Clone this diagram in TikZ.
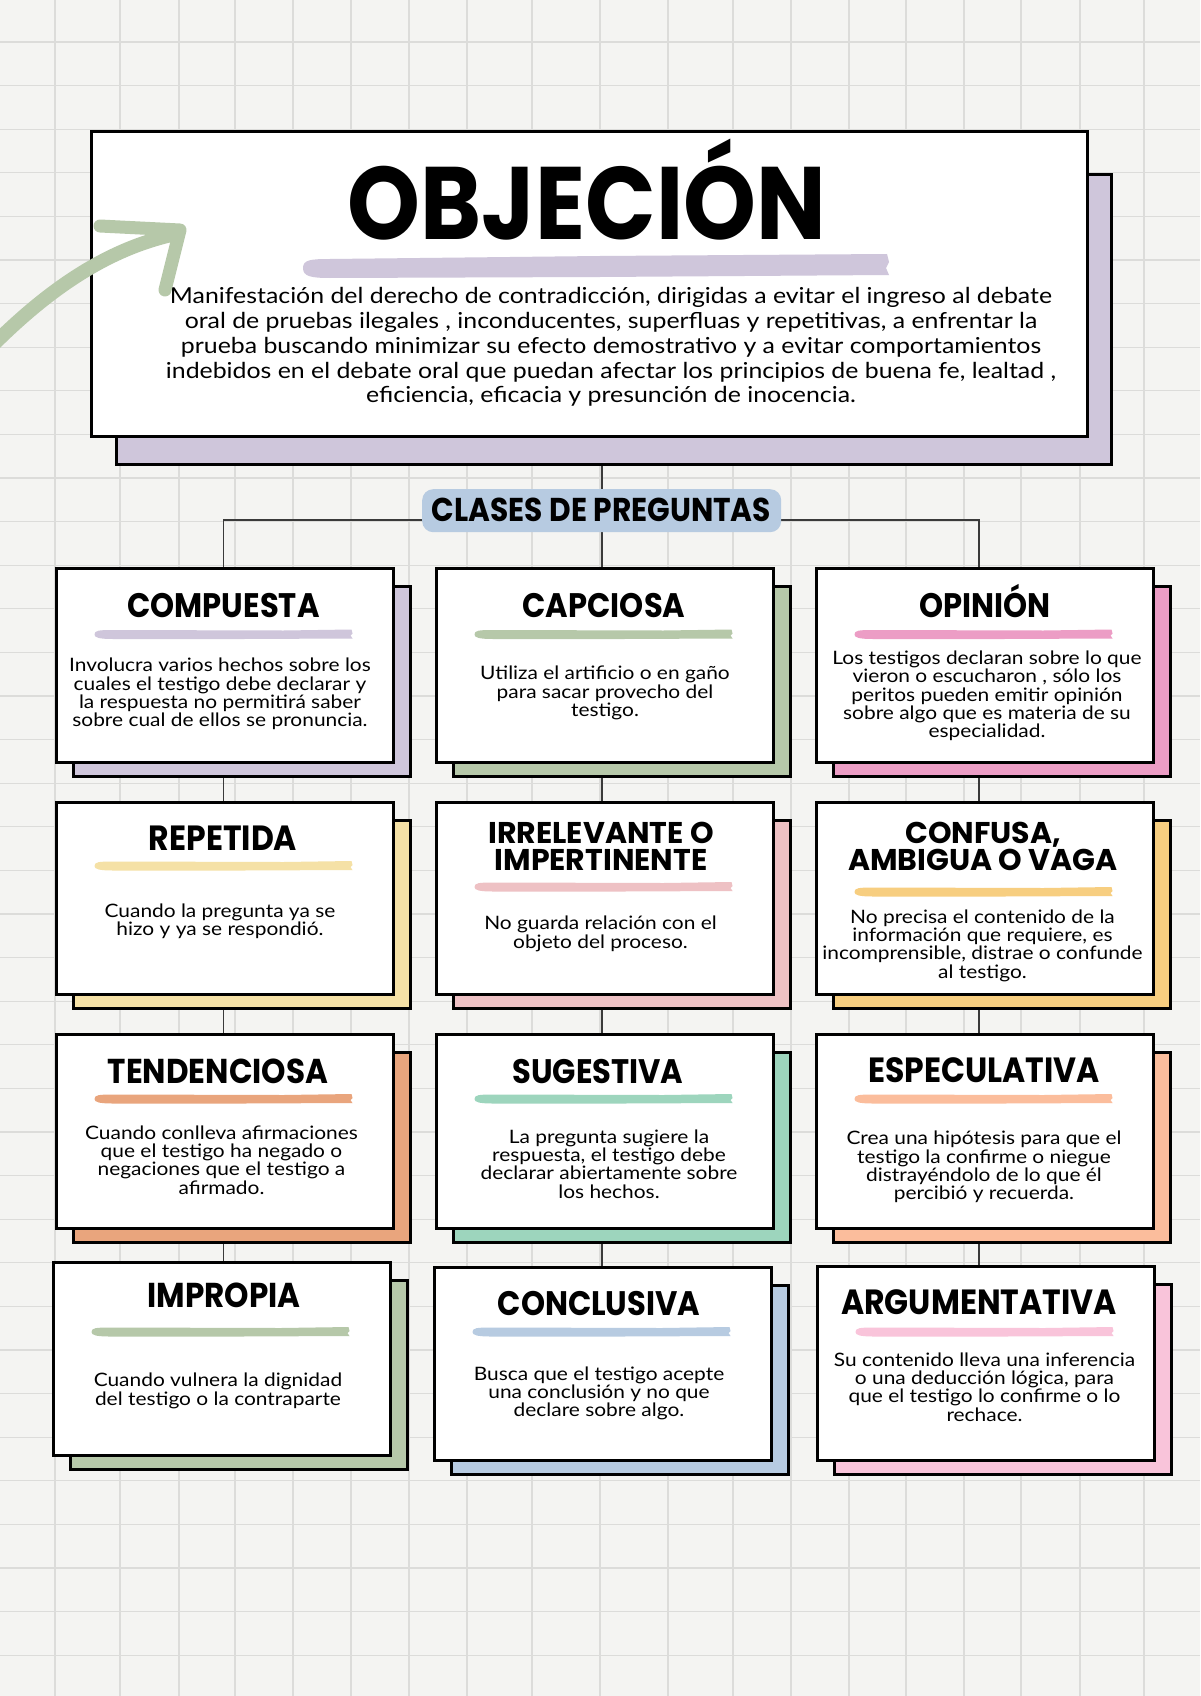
\documentclass[tikz,border=0pt]{standalone}
\usepackage{fontspec}
\setmainfont{Lato}
\newfontfamily\headfont{Poppins}[FakeStretch=0.9]
\newfontfamily\headwide{Poppins}[FakeStretch=1.0]
\newfontfamily\bodyfont{Lato}[FakeStretch=1.13]
\lineskiplimit=-40pt
\lineskip=0pt
\pgfdeclarelayer{bglayer}
\pgfdeclarelayer{connlayer}
\pgfsetlayers{bglayer,connlayer,main}
\definecolor{bgc}{HTML}{F4F4F2}
\definecolor{gridc}{HTML}{DCDCDA}
\definecolor{lav}{HTML}{CFC6DB}
\definecolor{sage}{HTML}{B6C8A9}
\definecolor{pinkc}{HTML}{EC9DC5}
\definecolor{pyellow}{HTML}{F5E1A6}
\definecolor{lpink}{HTML}{EEC1C4}
\definecolor{yellowc}{HTML}{F7CE80}
\definecolor{orangec}{HTML}{E9A57D}
\definecolor{mint}{HTML}{9DD5BD}
\definecolor{peach}{HTML}{FBBD9C}
\definecolor{bluec}{HTML}{B7CBE1}
\definecolor{bpink}{HTML}{F9C4DA}
\definecolor{linec}{HTML}{3A3A3A}
\newcommand\qcard[6]{%
  \node[shadowbox, fill=#5, minimum height=#4-#3-4] (#1s) at ({#2+17},{#3+18}) {};
  \node[cardbox, minimum height=#4-#3] (#1) at (#2,#3) {};
  \fill[#5, shift={({#2+168.5},#6)}] (-129,0) .. controls (-129,-4) and (-125,-4.5) .. (-110,-4.5) -- (60,-4) -- (128,-5) -- (129,-1) -- (127,1) -- (129,4) -- (20,4.5) -- (-110,4.5) .. controls (-125,4.5) and (-129,3) .. (-129,0);
}
\begin{document}
\begin{tikzpicture}[x=1pt,y=-1pt,
  shadowbox/.style={draw=black, line width=2.6pt, inner sep=0pt, anchor=north west, minimum width=337},
  cardbox/.style={draw=black, fill=white, line width=2.6pt, inner sep=0pt, anchor=north west, minimum width=337},
  headtext/.style={font=\headfont\bfseries\fontsize{#1}{#1}\selectfont, inner sep=0pt, text=black},
  headline/.style={font=\headwide\bfseries\fontsize{#1}{#1}\selectfont, inner sep=0pt, text=black},
  bodytext/.style={font=\bodyfont\fontsize{18.5}{18.3}\selectfont, inner sep=0pt, align=center, text=black},
  maintext/.style={font=\bodyfont\fontsize{22}{24.8}\selectfont, inner sep=0pt, align=center, text=black},
  conn/.style={draw=linec, line width=1.6pt},
  gridline/.style={draw=gridc, line width=1.1pt}]
\useasboundingbox (0,0) rectangle (1200,1696);
\begin{pgfonlayer}{bglayer}
\fill[bgc] (0,0) rectangle (1200,1696);
\foreach \gx in {55,120,179,235,293,351,409,467,532,600,668,733,791,849,906,964,1021,1080,1144}
  \draw[gridline] (\gx,0) -- (\gx,1696);
\foreach \i in {0,...,38}
  \draw[gridline] (0,{42+43.6*\i}) -- (1200,{42+43.6*\i});
\end{pgfonlayer}

% main box
\node[shadowbox, fill=lav, minimum width=995, minimum height=290] (mainsh) at (115,173) {};
\node[cardbox, minimum width=996, minimum height=305] (main) at (90,130) {};
\node[headtext=103, anchor=base] (title) at (587,240) {OBJECIÓN};
\fill[lav] (303,268) .. controls (303,260) and (310,259) .. (330,259) -- (600,256) -- (887,254) -- (889,262) -- (886,268) -- (889,275) -- (600,277) -- (330,278) .. controls (310,278) and (303,276) .. (303,268);
\node[maintext] (desc) at (611,347) {Manifestación del derecho de contradicción, dirigidas a evitar el  ingreso al debate\\oral de pruebas  ilegales , inconducentes, superfluas y repetitivas, a enfrentar  la\\prueba buscando  minimizar  su efecto demostrativo y a evitar comportamientos\\indebidos en el debate oral que puedan afectar los principios de buena fe, lealtad ,\\eficiencia, eficacia y presunción  de inocencia.};

% arrow
\draw[sage, line width=14pt, line cap=round] (-12,350) .. controls (50,287) and (110,248) .. (176,234);
\draw[sage, line width=13pt, line cap=round, line join=round] (100,226) -- (180,230) -- (165,290);

% pill
\node[fill=bluec, rounded corners=11pt, minimum width=359, minimum height=43, inner sep=0pt, anchor=north west] (pill) at (422,489) {};
\node[headtext=33, anchor=base] (pilltext) at (601.5,521) {CLASES DE PREGUNTAS};

% cards (boxes, shadows, brushes)
\qcard{c11}{55}{567}{761}{lav}{634.5}
\qcard{c12}{435}{567}{761}{sage}{634.5}
\qcard{c13}{815}{567}{761}{pinkc}{634.5}
\qcard{c21}{55}{801}{993}{pyellow}{866}
\qcard{c22}{435}{801}{993}{lpink}{887}
\qcard{c23}{815}{801}{993}{yellowc}{892}
\qcard{c31}{55}{1033}{1227}{orangec}{1099}
\qcard{c32}{435}{1033}{1227}{mint}{1099}
\qcard{c33}{815}{1033}{1227}{peach}{1099}
\qcard{c41}{52}{1261}{1454}{sage}{1332}
\qcard{c42}{433}{1266}{1459}{bluec}{1332}
\qcard{c43}{816}{1265}{1459}{bpink}{1332}

% connectors
\begin{pgfonlayer}{connlayer}
\draw[conn] (pill.north) -- (pill.north |- mainsh.south);
\draw[conn] ([yshift=-9.5pt]pill.west) -| ([xshift=-1.5pt]c11.north);
\draw[conn] ([yshift=-9.5pt]pill.east) -| ([xshift=-6pt]c13.north);
\draw[conn] (pill.south) -- (pill.south |- c12.north);
\draw[conn] ([xshift=-1.5pt]c11.south) -- ([xshift=-1.5pt]c11.south |- c21.north);
\draw[conn] ([xshift=-1.5pt]c21.south) -- ([xshift=-1.5pt]c21.south |- c31.north);
\draw[conn] ([xshift=-1.5pt]c31.south) -- ([xshift=-1.5pt]c31.south |- c41.north);
\draw[conn] (pill.south |- c12.south) -- (pill.south |- c22.north);
\draw[conn] (pill.south |- c22.south) -- (pill.south |- c32.north);
\draw[conn] (pill.south |- c32.south) -- (pill.south |- c42.north);
\draw[conn] ([xshift=-6pt]c13.south) -- ([xshift=-6pt]c13.south |- c23.north);
\draw[conn] ([xshift=-6pt]c23.south) -- ([xshift=-6pt]c23.south |- c33.north);
\draw[conn] ([xshift=-6pt]c33.south) -- ([xshift=-6pt]c33.south |- c43.north);
\end{pgfonlayer}

% headings
\node[headtext=34, anchor=base] (c11h) at (223.5,617) {COMPUESTA};
\node[headtext=34, anchor=base] (c12h) at (604,617) {CAPCIOSA};
\node[headtext=34, anchor=base] (c13h) at (985,617) {OPINIÓN};
\node[headtext=35, anchor=base] (c21h) at (223,850) {REPETIDA};
\node[headline=30, anchor=base] (c22h1) at (601,843) {IRRELEVANTE O};
\node[headline=30, anchor=base] (c22h2) at (601,870) {IMPERTINENTE};
\node[headline=30, anchor=base] (c23h1) at (983,843) {CONFUSA,};
\node[headline=30, anchor=base] (c23h2) at (983,870) {AMBIGUA O VAGA};
\node[headtext=34.5, anchor=base] (c31h) at (218,1083) {TENDENCIOSA};
\node[headtext=34, anchor=base] (c32h) at (598,1083) {SUGESTIVA};
\node[headtext=35, anchor=base] (c33h) at (984,1082) {ESPECULATIVA};
\node[headtext=34.5, anchor=base] (c41h) at (224,1307) {IMPROPIA};
\node[headtext=34, anchor=base] (c42h) at (599,1315) {CONCLUSIVA};
\node[headtext=35, anchor=base] (c43h) at (979,1314) {ARGUMENTATIVA};

% bodies
\node[bodytext] (c11b) at (220,694) {Involucra varios hechos sobre los\\cuales el testigo debe declarar y\\la respuesta no permitirá saber\\sobre cual de ellos se pronuncia.};
\node[bodytext] (c12b) at (605,693) {Utiliza el artificio o en gaño\\para sacar provecho del\\testigo.};
\node[bodytext] (c13b) at (987,696) {Los testigos declaran sobre lo que\\vieron o escucharon , sólo los\\peritos  pueden emitir opinión\\sobre algo que es materia de su\\especialidad.};
\node[bodytext] (c21b) at (220,921.5) {Cuando la pregunta ya se\\hizo y ya se respondió.};
\node[bodytext] (c22b) at (600.5,934) {No guarda relación con el\\objeto del proceso.};
\node[bodytext] (c23b) at (982.5,945.5) {No precisa el contenido de la\\información que requiere, es\\incomprensible, distrae o confunde\\al testigo.};
\node[bodytext] (c31b) at (221.5,1160) {Cuando conlleva afirmaciones\\que el  testigo ha negado o\\negaciones  que el testigo a\\afirmado.};
\node[bodytext] (c32b) at (609,1164) {La pregunta sugiere la\\respuesta, el testigo debe\\declarar  abiertamente sobre\\los hechos.};
\node[bodytext] (c33b) at (984,1167) {Crea una hipótesis para que el\\testigo la confirme o niegue\\distrayéndolo de lo que él\\percibió y recuerda.};
\node[bodytext] (c41b) at (218,1391) {Cuando vulnera la dignidad\\del testigo o la contraparte};
\node[bodytext] (c42b) at (599,1393.5) {Busca que el testigo acepte\\una conclusión y no que\\declare sobre algo.};
\node[bodytext] (c43b) at (984.5,1387) {Su contenido lleva una inferencia\\o una deducción lógica, para\\que el testigo  lo confirme o lo\\rechace.};
\end{tikzpicture}
\end{document}
